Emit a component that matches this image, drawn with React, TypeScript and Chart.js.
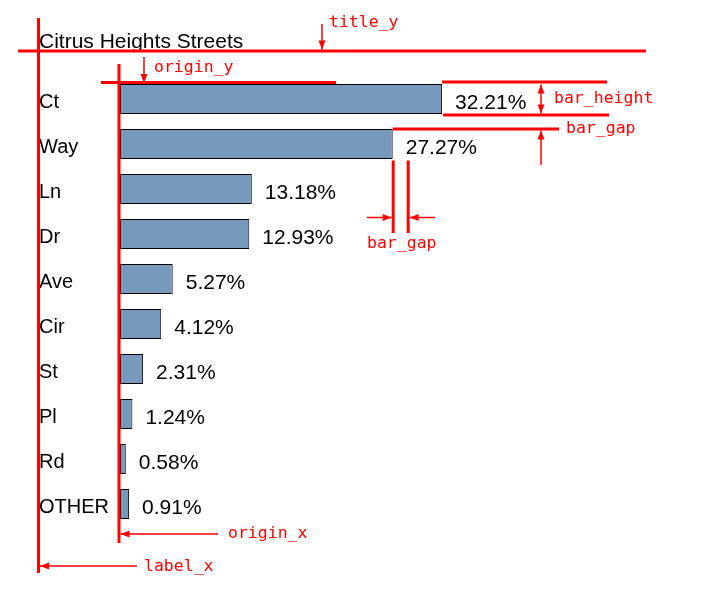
import React, { useEffect, useRef } from 'react';
import { Chart, registerables } from 'chart.js';

Chart.register(...registerables);

const TITLE = 'Citrus Heights Streets';
const categories = ['Ct', 'Way', 'Ln', 'Dr', 'Ave', 'Cir', 'St', 'Pl', 'Rd', 'OTHER'];
const shares = [32.21, 27.27, 13.18, 12.93, 5.27, 4.12, 2.31, 1.24, 0.58, 0.91];
const X_MIN = 0;
const X_MAX = 50;

const SANS = '"Liberation Sans", Arial, sans-serif';
const MONO = '"DejaVu Sans Mono", monospace';
const RED = '#ff0000';
const BAR_FILL = '#7799bb';

function line(ctx: CanvasRenderingContext2D, x1: number, y1: number, x2: number, y2: number) {
  ctx.beginPath();
  ctx.moveTo(x1, y1);
  ctx.lineTo(x2, y2);
  ctx.stroke();
}

function head(ctx: CanvasRenderingContext2D, fx: number, fy: number, tx: number, ty: number) {
  const a = Math.atan2(ty - fy, tx - fx);
  const len = 9;
  const hw = 3.5;
  const bx = tx - len * Math.cos(a);
  const by = ty - len * Math.sin(a);
  ctx.beginPath();
  ctx.moveTo(tx, ty);
  ctx.lineTo(bx + hw * Math.sin(a), by - hw * Math.cos(a));
  ctx.lineTo(bx - hw * Math.sin(a), by + hw * Math.cos(a));
  ctx.closePath();
  ctx.fill();
}

function arrow(ctx: CanvasRenderingContext2D, x1: number, y1: number, x2: number, y2: number, both = false) {
  ctx.save();
  ctx.lineWidth = 1.5;
  line(ctx, x1, y1, x2, y2);
  head(ctx, x1, y1, x2, y2);
  if (both) head(ctx, x2, y2, x1, y1);
  ctx.restore();
}

const valueLabels = {
  id: 'valueLabels',
  afterDatasetsDraw(chart: any) {
    const ctx = chart.ctx as CanvasRenderingContext2D;
    const meta = chart.getDatasetMeta(0);
    ctx.save();
    ctx.font = `21px ${SANS}`;
    ctx.fillStyle = '#000';
    ctx.textAlign = 'left';
    ctx.textBaseline = 'alphabetic';
    meta.data.forEach((bar: any, i: number) => {
      ctx.fillText(shares[i].toFixed(2) + '%', bar.x + 13, bar.y + 10);
    });
    ctx.restore();
  },
};

const annotations = {
  id: 'annotations',
  afterDraw(chart: any) {
    const ctx = chart.ctx as CanvasRenderingContext2D;
    const ca = chart.chartArea;
    const meta = chart.getDatasetMeta(0);
    const ct = meta.data[0] as any;
    const way = meta.data[1] as any;
    const ctTop = ct.y - ct.height / 2;
    const ctBot = ct.y + ct.height / 2;
    const wayTop = way.y - way.height / 2;
    const wayBot = way.y + way.height / 2;
    const labelX = chart.scales.y.left - 0.5;
    const originX = ca.left - 1;
    const titleY = 51;

    ctx.save();
    ctx.strokeStyle = RED;
    ctx.fillStyle = RED;
    ctx.lineWidth = 3;
    // main guide lines
    line(ctx, labelX, 18, labelX, 573);
    line(ctx, 18, titleY, 646, titleY);
    line(ctx, originX, 64, originX, 543);
    line(ctx, 101, ctTop - 1.5, 336, ctTop - 1.5);
    line(ctx, ct.x, ctTop - 2, 607, ctTop - 2);
    line(ctx, ct.x + 1, ctBot + 1, 609, ctBot + 1);
    line(ctx, way.x, wayTop, 559, wayTop);
    line(ctx, way.x + 0.5, wayBot + 1.5, way.x + 0.5, 233);
    line(ctx, way.x + 15.5, wayBot + 1.5, way.x + 15.5, 233);

    // arrows
    arrow(ctx, 322, 24, 322, titleY - 1.5);
    arrow(ctx, 144, 57, 144, ctTop - 1);
    arrow(ctx, 541, ctTop + 0.5, 541, ctBot - 0.5, true);
    arrow(ctx, 541, 165, 541, wayTop + 1.5);
    arrow(ctx, 367, 217.5, way.x - 1, 217.5);
    arrow(ctx, 435, 217.5, way.x + 17, 217.5);
    arrow(ctx, 218, 534, originX + 1.5, 534);
    arrow(ctx, 137, 566, labelX + 1.5, 566);

    // annotation texts
    ctx.font = `16.5px ${MONO}`;
    ctx.textAlign = 'left';
    ctx.textBaseline = 'alphabetic';
    ctx.fillText('title_y', 329, 26.7);
    ctx.fillText('origin_y', 154, 71.7);
    ctx.fillText('bar_height', 554, 102.5);
    ctx.fillText('bar_gap', 566, 133);
    ctx.fillText('bar_gap', 367, 248.3);
    ctx.fillText('origin_x', 228, 538.3);
    ctx.fillText('label_x', 144, 570.7);
    ctx.restore();
  },
};

export default function App() {
  const canvasRef = useRef<HTMLCanvasElement | null>(null);

  useEffect(() => {
    const canvas = canvasRef.current;
    if (!canvas) return;
    const chart = new Chart(canvas, {
      type: 'bar',
      data: {
        labels: categories,
        datasets: [
          {
            data: shares,
            backgroundColor: BAR_FILL,
            borderColor: '#000000',
            borderWidth: 1,
            borderSkipped: false,
            categoryPercentage: 1,
            barPercentage: 2 / 3,
          },
        ],
      },
      options: {
        indexAxis: 'y',
        responsive: false,
        animation: false,
        devicePixelRatio: 1,
        layout: { padding: { left: 39, right: 86, top: 0, bottom: 70.5 } },
        plugins: {
          legend: { display: false },
          tooltip: { enabled: false },
          title: {
            display: true,
            text: TITLE,
            align: 'start',
            color: '#000',
            font: { family: SANS, size: 21, weight: 'normal', lineHeight: '24px' },
            padding: { top: 30, bottom: 22.5 },
          },
        },
        scales: {
          x: { display: false, min: X_MIN, max: X_MAX },
          y: {
            display: true,
            grid: { display: false },
            border: { display: false },
            ticks: {
              color: '#000',
              font: { family: SANS, size: 20 },
              crossAlign: 'far',
              padding: 0,
              labelOffset: 3,
            },
            afterFit: (scale: any) => {
              scale.width = 81;
            },
          },
        },
      },
      plugins: [valueLabels, annotations],
    } as any);
    return () => chart.destroy();
  }, []);

  return (
    <div style={{ position: 'fixed', left: 0, top: 0, width: 706, height: 597, background: '#fff' }}>
      <canvas ref={canvasRef} width={706} height={597} style={{ display: 'block' }} />
    </div>
  );
}
